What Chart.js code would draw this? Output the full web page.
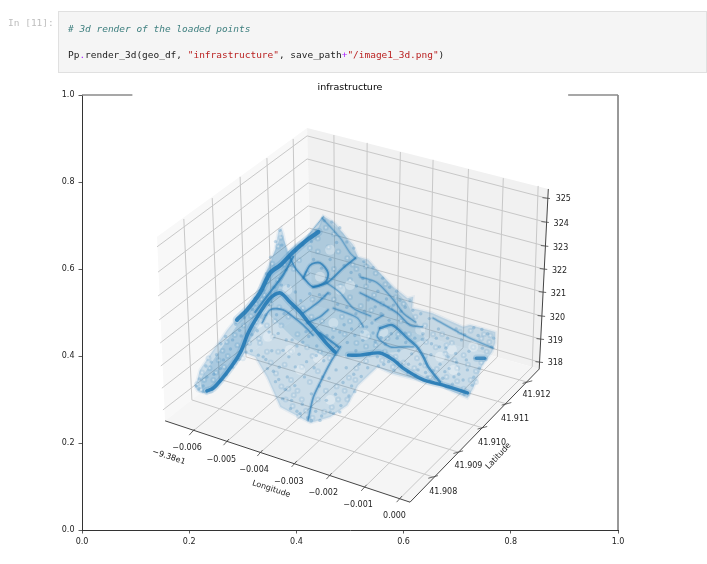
<!DOCTYPE html>
<html><head><meta charset="utf-8">
<style>
html,body{margin:0;padding:0;background:#fff;width:707px;height:564px;overflow:hidden}
#prompt{position:absolute;left:8px;top:16px;font:9.5px/14px "DejaVu Sans Mono",monospace;color:#bdbdbd;white-space:pre;filter:blur(.3px)}
#cell{position:absolute;left:58px;top:11px;width:647px;height:60px;background:#f5f5f5;border:1px solid #e0e0e0}
.ln{position:absolute;left:9px;font:9.47px/14px "DejaVu Sans Mono",monospace;color:#222;white-space:pre;filter:blur(.3px)}
.c{color:#408080;font-style:italic}.s{color:#ba2121}.o{color:#a2f}
canvas{position:absolute;left:0;top:0;filter:blur(.45px)}
</style></head><body>
<div id="prompt">In [11]:</div>
<div id="cell"><div class="ln c" style="top:10px"># 3d render of the loaded points</div>
<div class="ln" style="top:36px">Pp<span class="o">.</span>render_3d(geo_df, <span class="s">"infrastructure"</span>, save_path<span class="o">+</span><span class="s">"/image1_3d.png"</span>)</div></div>
<canvas id="c" width="707" height="564"></canvas>
<script src="https://cdn.jsdelivr.net/npm/chart.js@4/dist/chart.umd.min.js"></script>
<script>
// Outer 2D axes ticks
const outerTicks=[0,0.2,0.4,0.6,0.8,1.0];
const chartTitle="infrastructure";
// 3D tick labels, placed in outer-axes units
const lonLabels=["\u22120.006","\u22120.005","\u22120.004","\u22120.003","\u22120.002","\u22120.001","0.000"];
const lonAt=[[.196,.189],[.260,.161],[.321,.138],[.386,.110],[.450,.085],[.515,.057],[.583,.032]];
const latLabels=["41.908","41.909","41.910","41.911","41.912"];
const latAt=[[.674,.087],[.721,.147],[.765,.200],[.808,.255],[.848,.310]];
const zLabels=["325","324","323","322","321","320","319","318"];
const zAt=[[.898,.761],[.894,.704],[.893,.648],[.891,.595],[.889,.543],[.887,.487],[.883,.434],[.883,.384]];
// Panes
const paneLeft=[[.140,.674],[.420,.924],[.429,.517],[.155,.251],[.140,.674]];
const paneRight=[[.420,.924],[.870,.784],[.853,.370],[.429,.517],[.420,.924]];
const paneFloor=[[.155,.251],[.429,.517],[.853,.370],[.612,.064],[.155,.251]];
// Grid
const lonGrid=[[[.205,.225],[.472,.502],[.470,.908]],[[.269,.202],[.530,.483],[.532,.890]],[[.332,.177],[.588,.462],[.594,.869]],[[.396,.152],[.648,.441],[.655,.851]],[[.461,.124],[.711,.419],[.721,.830]],[[.526,.097],[.775,.398],[.786,.809]],[[.592,.071],[.840,.375],[.851,.791]]];
const latGrid=[[[.655,.122],[.205,.299],[.190,.715]],[[.702,.179],[.256,.347],[.243,.763]],[[.747,.235],[.306,.398],[.295,.812]],[[.792,.290],[.355,.444],[.345,.855]],[[.831,.340],[.400,.487],[.394,.899]]];
const zGrid=[[[.140,.651],[.420,.906],[.866,.763]],[[.142,.593],[.420,.853],[.864,.708]],[[.142,.538],[.422,.798],[.863,.653]],[[.144,.483],[.422,.745],[.861,.600]],[[.146,.430],[.424,.694],[.859,.547]],[[.147,.377],[.424,.641],[.857,.492]],[[.149,.326],[.426,.591],[.855,.439]],[[.151,.276],[.428,.540],[.853,.386]]];
const spine3d=[[.155,.251],[.612,.064],[.853,.370],[.870,.784]];
// Point cloud outline and denser patches
const cloudOutline=[[.211,.329],[.220,.368],[.245,.414],[.271,.460],[.289,.487],[.314,.517],[.332,.559],[.347,.605],[.360,.644],[.366,.685],[.372,.694],[.375,.683],[.383,.639],[.398,.655],[.420,.671],[.441,.694],[.450,.722],[.472,.706],[.487,.683],[.506,.655],[.515,.628],[.534,.621],[.556,.591],[.581,.559],[.607,.533],[.618,.536],[.616,.510],[.653,.499],[.711,.467],[.724,.471],[.771,.455],[.771,.430],[.765,.409],[.747,.379],[.730,.326],[.719,.303],[.693,.317],[.668,.333],[.625,.345],[.575,.361],[.551,.375],[.515,.333],[.495,.287],[.463,.260],[.426,.246],[.394,.267],[.370,.283],[.345,.352],[.323,.398],[.304,.407],[.276,.368],[.252,.329],[.233,.313],[.215,.320],[.211,.329]];
const patchCentre=[[.383,.639],[.420,.671],[.450,.722],[.487,.683],[.515,.628],[.556,.591],[.607,.520],[.640,.440],[.590,.410],[.510,.400],[.450,.400],[.395,.440],[.345,.500],[.383,.639]];
const patchFlank=[[.220,.345],[.250,.400],[.289,.470],[.332,.550],[.372,.680],[.392,.620],[.345,.500],[.300,.410],[.252,.335],[.225,.320],[.220,.345]];
// Dense ridges of the cloud: [width, points]
const ridgeMain=[[.289,.483],[.308,.506],[.332,.545],[.351,.591],[.370,.609],[.394,.639],[.420,.667],[.441,.685]];
const ridgeFlank=[[.233,.320],[.245,.326],[.271,.363],[.295,.407],[.310,.453],[.329,.494],[.351,.533],[.370,.545],[.388,.524],[.407,.501],[.422,.478],[.435,.460],[.454,.432],[.472,.409]];
const ridgeInner=[[.336,.476],[.351,.506],[.375,.506],[.394,.490],[.413,.471],[.431,.448]];
const ridgeThird=[[.323,.501],[.351,.547],[.375,.586],[.394,.628]];
const ridgeSquare=[[.413,.580],[.426,.609],[.444,.614],[.459,.591],[.454,.570],[.431,.559],[.413,.580]];
const ridgeToSquare=[[.388,.626],[.398,.602],[.413,.580]];
const ridgeShoulder=[[.431,.559],[.457,.568],[.487,.602],[.510,.625]];
const ridgeDown=[[.457,.568],[.482,.545],[.506,.510],[.538,.492]];
const ridgeCross=[[.413,.499],[.439,.522],[.459,.545]];
const ridgeTop=[[.448,.717],[.482,.671],[.500,.637],[.510,.625]];
const ridgeTopInner=[[.407,.650],[.426,.683],[.450,.720]];
const ridgeMidA=[[.420,.476],[.444,.490],[.459,.506]];
const ridgeMidB=[[.444,.453],[.469,.430],[.478,.421]];
const ridgeDiag=[[.482,.421],[.463,.384],[.444,.338],[.431,.303],[.422,.253]];
const ridgeFoot=[[.497,.402],[.519,.402],[.556,.407],[.581,.391],[.599,.372],[.637,.345],[.674,.333],[.719,.315]];
const ridgeS1=[[.519,.582],[.551,.568],[.581,.529],[.599,.499],[.622,.478]];
const ridgeS2=[[.469,.510],[.513,.488],[.525,.467]];
const ridgeS3=[[.519,.545],[.556,.522],[.588,.499],[.612,.471],[.635,.467]];
const ridgeLoopUp=[[.556,.464],[.579,.471],[.607,.441],[.625,.421],[.637,.398],[.646,.375],[.668,.340]];
const ridgeLoopLow=[[.556,.464],[.551,.444],[.575,.421],[.599,.421],[.618,.421]];
const ridgeSmall=[[.547,.483],[.562,.494]];
const ridgeRight=[[.655,.487],[.719,.444],[.767,.418]];
const ridgeSpot=[[.736,.395],[.751,.395]];
// Coarse density read across the cloud
const density=[[.215,.335],[.228,.345],[.224,.362],[.238,.372],[.250,.362],[.236,.395],[.255,.390],[.262,.412],[.272,.400],[.270,.432],[.285,.448],[.290,.425],[.302,.470],[.315,.492],[.326,.478],[.335,.530],[.346,.572],[.355,.612],[.366,.652],[.371,.672],[.378,.610],[.332,.430],[.345,.410],[.352,.385],[.362,.360],[.372,.330],[.380,.300],[.393,.285],[.405,.262],[.418,.274],[.430,.258],[.440,.300],[.452,.272],[.466,.282],[.478,.300],[.490,.320],[.498,.350],[.512,.372],[.402,.320],[.390,.345],[.378,.380],[.366,.410],[.356,.445],[.372,.470],[.390,.410],[.410,.375],[.425,.340],[.440,.365],[.462,.395],[.444,.410],[.420,.420],[.402,.450],[.385,.490],[.368,.512],[.352,.520],[.412,.510],[.428,.490],[.448,.480],[.470,.462],[.490,.450],[.512,.430],[.530,.422],[.548,.425],[.565,.410],[.585,.398],[.600,.385],[.620,.372],[.640,.378],[.662,.370],[.680,.352],[.700,.342],[.712,.325],[.725,.345],[.735,.365],[.745,.385],[.755,.410],[.760,.432],[.745,.440],[.730,.420],[.712,.402],[.695,.390],[.678,.405],[.660,.420],[.642,.432],[.690,.430],[.672,.450],[.705,.455],[.725,.458],[.750,.450],[.762,.447],[.640,.470],[.622,.490],[.600,.520],[.585,.535],[.566,.565],[.548,.590],[.530,.606],[.512,.600],[.500,.575],[.482,.560],[.470,.530],[.450,.535],[.430,.530],[.420,.590],[.440,.640],[.460,.650],[.478,.640],[.495,.625],[.505,.610],[.455,.695],[.470,.680],[.440,.670],[.425,.648],[.405,.620],[.395,.600],[.470,.600],[.530,.560],[.545,.540],[.560,.520],[.575,.510],[.595,.480],[.610,.450],[.590,.450],[.570,.440],[.535,.445],[.520,.470],[.500,.480],[.485,.490],[.540,.505],[.520,.515],[.500,.535],[.640,.400],[.625,.395],[.655,.450],[.680,.425],[.700,.372],[.720,.380],[.735,.340],[.682,.330],[.650,.350],[.610,.360],[.580,.375],[.560,.390],[.530,.388],[.510,.345],[.495,.300],[.475,.330],[.455,.320],[.410,.300],[.395,.310],[.385,.325],[.430,.400],[.360,.480],[.345,.470],[.330,.440],[.312,.430],[.300,.395],[.285,.385],[.265,.375],[.245,.345],[.240,.320],[.222,.322],[.325,.520],[.340,.540],[.365,.575],[.350,.590]];
// Individual specks read across the cloud
const specks=[[.213,.331],[.219,.347],[.226,.331],[.233,.352],[.231,.377],[.241,.386],[.246,.358],[.258,.371],[.251,.403],[.264,.391],[.259,.428],[.277,.416],[.268,.445],[.281,.437],[.294,.459],[.287,.473],[.303,.488],[.297,.446],[.318,.507],[.323,.533],[.339,.551],[.344,.589],[.352,.627],[.361,.663],[.369,.689],[.373,.655],[.381,.598],[.372,.563],[.358,.558],[.343,.495],[.327,.458],[.317,.449],[.338,.398],[.346,.371],[.354,.412],[.361,.341],[.368,.374],[.374,.302],[.383,.352],[.389,.279],[.397,.332],[.401,.273],[.411,.289],[.415,.352],[.421,.258],[.428,.313],[.436,.273],[.443,.331],[.447,.262],[.456,.298],[.461,.349],[.469,.268],[.473,.312],[.483,.286],[.487,.339],[.493,.373],[.503,.331],[.507,.358],[.517,.381],[.386,.398],[.392,.437],[.398,.375],[.405,.404],[.412,.432],[.419,.387],[.423,.445],[.433,.373],[.438,.423],[.451,.389],[.457,.447],[.449,.352],[.468,.411],[.474,.368],[.481,.455],[.495,.431],[.503,.462],[.511,.412],[.524,.436],[.531,.467],[.536,.403],[.543,.453],[.551,.398],[.558,.442],[.563,.381],[.571,.402],[.577,.451],[.582,.367],[.591,.412],[.596,.376],[.604,.431],[.609,.362],[.615,.405],[.622,.356],[.631,.381],[.635,.438],[.644,.352],[.651,.403],[.655,.366],[.661,.441],[.668,.381],[.673,.349],[.679,.418],[.685,.371],[.691,.335],[.697,.406],[.703,.358],[.708,.437],[.713,.312],[.719,.368],[.722,.411],[.728,.333],[.733,.395],[.739,.447],[.741,.372],[.747,.418],[.753,.393],[.757,.451],[.764,.421],[.768,.441],[.746,.461],[.731,.465],[.714,.449],[.698,.462],[.682,.441],[.665,.462],[.648,.486],[.632,.497],[.617,.505],[.603,.512],[.612,.527],[.593,.528],[.587,.549],[.574,.558],[.561,.579],[.543,.603],[.526,.617],[.518,.587],[.507,.648],[.494,.662],[.481,.695],[.466,.708],[.452,.711],[.437,.688],[.428,.663],[.412,.655],[.399,.642],[.391,.608],[.432,.622],[.447,.602],[.463,.622],[.475,.661],[.489,.608],[.502,.592],[.512,.561],[.524,.578],[.537,.571],[.552,.549],[.534,.529],[.547,.513],[.568,.531],[.581,.517],[.595,.503],[.573,.482],[.558,.497],[.541,.476],[.527,.503],[.511,.497],[.494,.512],[.477,.519],[.462,.543],[.443,.541],[.425,.543],[.408,.527],[.398,.547],[.385,.561],[.392,.511],[.377,.497],[.363,.495],[.349,.455],[.366,.452],[.381,.437],[.375,.413],[.401,.423],[.418,.456],[.437,.401],[.468,.443],[.489,.472],[.509,.447],[.523,.455],[.547,.433],[.566,.427],[.588,.441],[.603,.453],[.621,.441],[.636,.451],[.652,.428],[.667,.421],[.683,.398],[.699,.385],[.717,.391],[.731,.351],[.711,.345],[.694,.352],[.677,.364],[.658,.349],[.641,.362],[.627,.368],[.609,.381],[.589,.385],[.572,.387],[.553,.377],[.533,.373],[.521,.353],[.509,.318],[.498,.308],[.481,.271],[.463,.271],[.444,.252],[.428,.251],[.407,.268],[.391,.298],[.379,.323],[.367,.346],[.357,.365],[.343,.392],[.329,.402],[.316,.412],[.306,.409],[.293,.392],[.281,.374],[.269,.357],[.257,.342],[.243,.327],[.226,.318],[.218,.325]];
// Paler holes in the cloud
const paleSpots=[[.347,.444],[.383,.552],[.469,.476],[.444,.582],[.463,.644],[.562,.455],[.668,.398],[.693,.368],[.730,.421],[.482,.552],[.329,.476],[.342,.506],[.407,.368],[.388,.414],[.528,.448],[.631,.460],[.500,.563],[.463,.299],[.440,.395],[.690,.415]];
const outerBorders=[[[1,0],[1,1]]];
const topStubs=[[[0,1],[.094,1]],[[.907,1],[1,1]]];

const ds=[];
const pts=d=>d.map(p=>({x:p[0],y:p[1]}));
function line(data,o){ds.push(Object.assign({data:pts(data),showLine:true,pointRadius:0,fill:false,clip:false,borderWidth:.8,order:1000-ds.length},o));}
function dots(data,r,col){ds.push({data:pts(data),pointRadius:r,pointBackgroundColor:col,pointBorderWidth:0,clip:false,order:1000-ds.length});}
line(paneLeft,{fill:'shape',backgroundColor:'#f8f8f8',borderWidth:0});
line(paneRight,{fill:'shape',backgroundColor:'#f1f1f1',borderWidth:0});
line(paneFloor,{fill:'shape',backgroundColor:'#f5f5f5',borderWidth:0});
[...lonGrid,...latGrid,...zGrid].forEach(g=>line(g,{borderColor:'#c8c8c8',borderWidth:1}));
line(spine3d,{borderColor:'#444',borderWidth:1});
const tk=(p,dx,dy)=>[[p[0]-dx,p[1]-dy],[p[0]+dx,p[1]+dy]];
lonGrid.forEach(g=>line(tk(g[0],.005,.007),{borderColor:'#444'}));
latGrid.forEach(g=>line(tk(g[0],.009,.003),{borderColor:'#444'}));
zGrid.forEach(g=>line(tk(g[2],.007,-.001),{borderColor:'#444'}));
const blue=a=>`rgba(31,119,180,${a})`;
line(cloudOutline,{fill:'shape',backgroundColor:blue(.2),borderWidth:3,borderColor:blue(.07)});
line(patchCentre,{fill:'shape',backgroundColor:blue(.14),borderWidth:0});
line(patchFlank,{fill:'shape',backgroundColor:blue(.2),borderWidth:0});
dots(density,3,blue(.11));
dots(paleSpots,5,'rgba(255,255,255,.32)');
dots(specks,1.7,blue(.24));
dots(density,1.1,'rgba(255,255,255,.4)');
const ridges=[[ridgeMain,4.2,.85],[ridgeFlank,3.6,.85],[ridgeInner,1.6,.6],[ridgeThird,2,.7],[ridgeSquare,1.9,.72],[ridgeToSquare,1.6,.65],[ridgeShoulder,1.9,.7],[ridgeDown,1.3,.5],[ridgeCross,1.6,.62],[ridgeTop,1.1,.4],[ridgeTopInner,1,.35],[ridgeMidA,1.6,.6],[ridgeMidB,2,.7],[ridgeDiag,1.7,.6],[ridgeFoot,3.4,.85],[ridgeS1,1.3,.5],[ridgeS2,1.3,.48],[ridgeS3,1.5,.55],[ridgeLoopUp,2.4,.72],[ridgeLoopLow,1.3,.55],[ridgeSmall,1.4,.55],[ridgeRight,1.3,.45],[ridgeSpot,3.4,.75]];
ridges.forEach(r=>{
  const o={tension:.3,borderCapStyle:'round',borderJoinStyle:'round'};
  line(r[0],Object.assign({borderColor:blue(.16),borderWidth:r[1]*1.8+1},o));
  line(r[0],Object.assign({borderColor:blue(r[2]),borderWidth:r[1]},o));
});
outerBorders.forEach(b=>line(b,{borderColor:'#333',borderWidth:1}));
topStubs.forEach(b=>line(b,{borderColor:'#8a8a8a',borderWidth:1.3}));

const textPlugin={id:'labels3d',afterDatasetsDraw(ch){
  const c=ch.ctx,X=ch.scales.x,Y=ch.scales.y;
  const put=(t,p,rot)=>{c.save();c.translate(X.getPixelForValue(p[0]),Y.getPixelForValue(p[1]));c.rotate((rot||0)*Math.PI/180);c.fillText(t,0,0);c.restore();};
  c.save();c.font='8px "DejaVu Sans"';c.fillStyle='#222';c.textAlign='center';c.textBaseline='middle';
  lonLabels.forEach((t,i)=>put(t,lonAt[i]));latLabels.forEach((t,i)=>put(t,latAt[i]));zLabels.forEach((t,i)=>put(t,zAt[i]));
  put("\u22129.38e1",[.162,.168],18);put("Longitude",[.353,.094],18);put("Latitude",[.777,.170],-47);
  c.restore();
}};
const axis={type:'linear',min:0,max:1,grid:{drawOnChartArea:false,drawTicks:true,tickLength:3.5,tickColor:'#333',tickWidth:.8},border:{color:'#333',width:1},
  ticks:{stepSize:.2,maxRotation:0,padding:4,color:'#222',font:{family:'"DejaVu Sans"',size:8},callback:v=>outerTicks.includes(+v.toFixed(1))?v.toFixed(1):''}};
new Chart(document.getElementById('c'),{type:'scatter',data:{datasets:ds},plugins:[textPlugin],options:{
  responsive:false,animation:false,events:[],
  layout:{padding:{left:52,right:89,top:81.6,bottom:4}},
  plugins:{legend:{display:false},tooltip:{enabled:false},
    title:{display:true,text:chartTitle,fullSize:false,color:'#000',padding:{top:0,bottom:2},font:{family:'"DejaVu Sans"',size:9.5,weight:'normal'}}},
  scales:{x:Object.assign({},axis,{afterFit:s=>{s.height=30}}),y:Object.assign({},axis,{afterFit:s=>{s.width=30}})}
}});
</script></body></html>
